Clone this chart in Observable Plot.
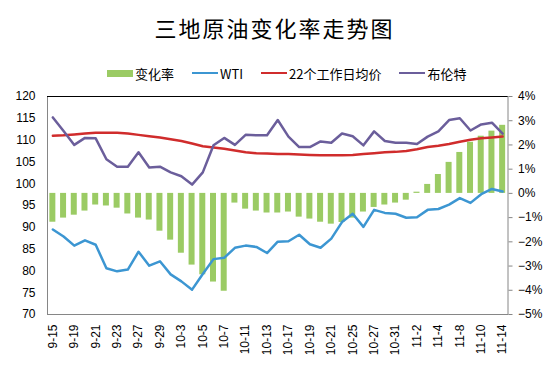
<!DOCTYPE html>
<html><head><meta charset="utf-8">
<script src="https://cdn.jsdelivr.net/npm/d3@7"></script>
<script src="https://cdn.jsdelivr.net/npm/@observablehq/plot@0.6"></script>
<style>
html,body{margin:0;padding:0;background:#fff;}
#wrap{position:relative;width:549px;height:384px;overflow:hidden;font-family:"Noto Sans CJK SC","Liberation Sans",sans-serif;}
#title{position:absolute;left:0;width:549px;top:12px;text-align:center;font-size:22px;letter-spacing:2px;color:#000;line-height:30px;}
#legend{position:absolute;top:64px;left:107px;height:18px;font-size:13px;color:#000;display:flex;align-items:center;}
.item{display:flex;align-items:center;margin-right:18px;}
.sw{width:26px;margin-right:2px;}
#chart{position:absolute;left:0;top:0;}
</style></head>
<body><div id="wrap"><div id="title">三地原油变化率走势图</div><div id="legend"></div><div id="chart"></div></div>
<script>
const dates = ["9-15","9-16","9-19","9-20","9-21","9-22","9-23","9-26","9-27","9-28","9-29","9-30",
"10-3","10-4","10-5","10-6","10-7","10-10","10-11","10-12","10-13","10-14","10-17","10-18","10-19","10-20","10-21",
"10-24","10-25","10-26","10-27","10-28","10-31","11-1","11-2","11-3","11-4","11-7","11-8","11-9","11-10","11-11","11-14"];
const rate = [-1.19,-1.02,-0.90,-0.73,-0.48,-0.52,-0.61,-0.85,-1.02,-1.10,
-1.56,-1.93,-2.47,-2.96,-3.36,-3.66,-4.04,-0.40,-0.65,-0.73,
-0.81,-0.81,-0.77,-0.98,-1.06,-1.19,-1.27,-1.20,-1.02,-0.77,
-0.58,-0.48,-0.40,-0.28,0.05,0.37,0.78,1.28,1.69,2.11,
2.36,2.57,2.81];
const wti = [89.5,87.9,85.8,87.0,86.0,80.6,79.9,80.3,84.4,81.2,82.2,79.2,77.6,75.7,79.3,82.7,83.0,85.3,85.8,85.5,84.1,86.7,86.8,88.3,86.1,85.3,87.4,91.2,93.1,90.1,94.0,93.3,93.1,92.2,92.3,94.0,94.2,95.2,96.7,95.6,97.6,98.8,98.2];
const avg22 = [111.0,111.1,111.3,111.5,111.7,111.7,111.7,111.5,111.2,110.9,110.6,110.2,109.8,109.2,108.6,108.3,108.0,107.6,107.2,107.0,106.9,106.8,106.8,106.7,106.6,106.5,106.5,106.5,106.6,106.8,107.0,107.2,107.3,107.5,107.9,108.4,108.7,109.1,109.6,110.1,110.4,110.6,110.8];
const brent = [115.2,112.1,108.9,110.5,110.4,105.6,103.9,103.9,107.2,103.7,103.9,102.6,101.7,99.8,102.6,108.8,110.5,108.9,111.2,111.1,111.1,114.6,110.8,108.4,108.4,109.7,109.4,111.5,110.9,108.8,112.0,109.8,109.4,109.4,109.1,110.8,112.0,114.6,115.0,112.2,113.6,114.0,111.5];
const leftTicks = [70,75,80,85,90,95,100,105,110,115,120];
const pctTicks = [-5,-4,-3,-2,-1,0,1,2,3,4];
const seriesNames = ["变化率","WTI","22个工作日均价","布伦特"];
const colors = ["#9BCB64","#3C96D2","#D02C2C","#6B5E9B"];

const L0 = 70, L1 = 120, P0 = -5, P1 = 4;
const conv = p => L0 + (p - P0) * (L1 - L0) / (P1 - P0);
const inv = v => P0 + (v - L0) * (P1 - P0) / (L1 - L0);
const pfmt = p => (p < 0 ? "\u2212" + Math.abs(p) : String(p)) + "%";

const data = dates.map((d, i) => ({date: d, rate: rate[i], wti: wti[i], avg: avg22[i], brent: brent[i]}));

const plot = Plot.plot({
  width: 549, height: 384,
  marginTop: 96, marginBottom: 70, marginLeft: 47, marginRight: 41.5,
  style: {fontFamily: "'Liberation Sans', sans-serif", fontSize: "12px", background: "transparent", color: "#000"},
  x: {type: "band", domain: dates, paddingInner: 0.44, paddingOuter: 0.22},
  y: {domain: [L0, L1]},
  marks: [
    Plot.barY(data, {x: "date", y1: () => conv(0), y2: d => conv(d.rate), fill: colors[0]}),
    Plot.line(data, {x: "date", y: "wti", stroke: colors[1], strokeWidth: 2.5}),
    Plot.line(data, {x: "date", y: "avg", stroke: colors[2], strokeWidth: 2.5}),
    Plot.line(data, {x: "date", y: "brent", stroke: colors[3], strokeWidth: 2.5}),
    Plot.frame({stroke: "#868686"}),
    Plot.ruleY([L1], {stroke: "#000"}),
    Plot.axisY({anchor: "left", ticks: leftTicks, tickSize: 0, tickPadding: 12, label: null}),
    Plot.axisY({anchor: "right", ticks: pctTicks.map(conv), tickFormat: v => pfmt(Math.round(inv(v))), tickSize: 4, tickPadding: 6, stroke: "#868686", label: null}),
    Plot.axisX({ticks: dates.filter((d, i) => i % 2 === 0), tickRotate: -90, tickSize: 0, tickPadding: 10, label: null})
  ]
});
document.getElementById("chart").appendChild(plot);

const lg = document.getElementById("legend");
seriesNames.forEach((name, i) => {
  const it = document.createElement("div"); it.className = "item";
  const sw = document.createElement("div"); sw.className = "sw";
  sw.style.height = i === 0 ? "7px" : "2.5px";
  sw.style.background = colors[i];
  const t = document.createElement("span"); t.textContent = name;
  it.appendChild(sw); it.appendChild(t); lg.appendChild(it);
});
</script></body></html>
